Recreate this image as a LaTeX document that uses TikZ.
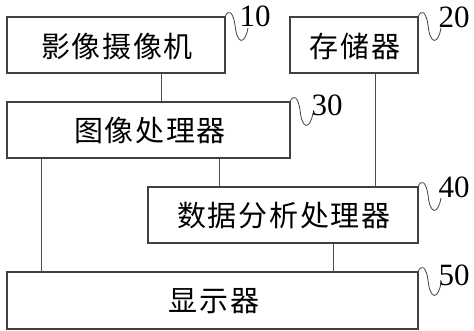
\documentclass[tikz,border=0pt]{standalone}
\usepackage{fontspec}
\newfontfamily\cjk[LetterSpace=6]{Noto Sans CJK SC}
\newfontfamily\numfont{Liberation Serif}
\begin{document}
\begin{tikzpicture}[x=1pt,y=-1pt,
  blk/.style={draw=black!75,line width=1.1pt,inner sep=0pt},
  lbl/.style={font=\cjk\fontsize{29}{30}\selectfont,inner sep=0pt},
  num/.style={font=\numfont\fontsize{31}{32}\selectfont,inner sep=0pt},
  wire/.style={draw=black!70,line width=0.9pt},
  squig/.style={draw=black!75,line width=0.8pt}]
\useasboundingbox (0,0) rectangle (474,330);
% boxes
\draw[blk] (7,17) rectangle (225,73);
\draw[blk] (290,17) rectangle (418,73);
\draw[blk] (7,102) rectangle (290,158);
\draw[blk] (148,187) rectangle (418,243);
\draw[blk] (7,272) rectangle (418,329);
\node[lbl] (t10) at (117,46) {影像摄像机};
\node[lbl] (t20) at (355,46) {存储器};
\node[lbl] (t30) at (150,131) {图像处理器};
\node[lbl] (t40) at (284,216) {数据分析处理器};
\node[lbl] (t50) at (214,301) {显示器};
% named coordinates for connectors
\coordinate (a1) at (161,73); \coordinate (a2) at (161,102);
\coordinate (b1) at (375,73); \coordinate (b2) at (375,187);
\coordinate (c1) at (219,158); \coordinate (c2) at (219,187);
\coordinate (d1) at (41,158); \coordinate (d2) at (41,272);
\coordinate (e1) at (333,243); \coordinate (e2) at (333,272);
\draw[wire] (a1) -- (a2);
\draw[wire] (b1) -- (b2);
\draw[wire] (c1) -- (c2);
\draw[wire] (d1) -- (d2);
\draw[wire] (e1) -- (e2);
% squiggles and numbers
\foreach \R/\T/\dx/\dy/\n in {225/17/30/-1/10, 418/17/36/0/20, 290/102/37/3/30, 418/187/36/0/40, 418/272/36/3/50}{
  \draw[squig] (\R,\T) .. controls (\R+3,\T-8) and (\R+8,\T-6) .. (\R+10,\T+8)
     .. controls (\R+12,\T+28) and (\R+20,\T+28) .. (\R+23,\T+11);
  \node[num] (n\n) at (\R+\dx,\T+\dy) {\n};
}
\end{tikzpicture}
\end{document}
